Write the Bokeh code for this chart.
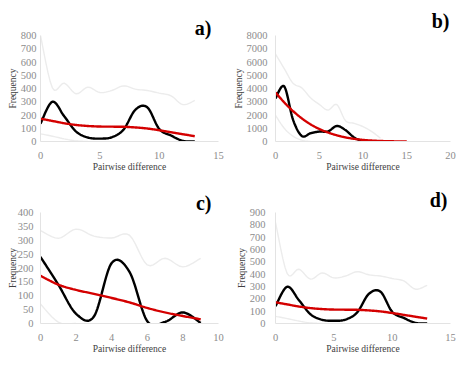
import numpy as np
from bokeh.plotting import figure
from bokeh.models import Range1d, FixedTicker, Title
from bokeh.layouts import gridplot
from bokeh.embed import file_html
from bokeh.resources import INLINE

# ---------------- data ----------------
# panel a
a_x = list(range(14))
a_obs = [135, 300, 190, 75, 30, 22, 32, 90, 240, 258, 95, 45, 5, 0]
a_exp = [172, 155, 138, 125, 117, 113, 112, 111, 106, 98, 85, 70, 55, 40]
a_hi = [800, 405, 440, 360, 410, 370, 385, 420, 395, 385, 365, 345, 278, 310]
a_lo_x = [0, 1, 2, 3, 4]
a_lo = [58, 40, 20, 5, 0]

# panel b
b_obs_x = list(range(11))
b_obs = [3250, 4150, 1650, 420, 620, 750, 760, 1170, 860, 300, 0]
b_exp_x = list(range(16))
b_exp = [3700, 2950, 2300, 1750, 1300, 950, 680, 470, 310, 200, 120, 70, 40, 20, 8, 0]
b_hi_x = list(range(13))
b_hi = [6600, 5500, 4400, 4050, 3300, 2800, 2370, 2790, 1570, 1370, 1120, 750, 250]
b_lo_x = [0, 1, 2, 3, 4]
b_lo = [1970, 1000, 400, 100, 0]

# panel c
c_x = list(range(10))
c_obs = [240, 140, 35, 25, 218, 186, 8, 6, 40, 2]
c_exp = [172, 140, 121, 107, 92, 76, 56, 40, 27, 15]
c_hi = [335, 307, 340, 315, 308, 318, 211, 235, 204, 235]
c_lo_x = [0, 1, 2]
c_lo = [70, 5, 0]

# panel d
d_x = list(range(14))
d_obs = [140, 298, 190, 75, 30, 22, 32, 90, 240, 258, 95, 45, 5, 0]
d_exp = [172, 155, 138, 125, 117, 113, 112, 111, 106, 98, 85, 70, 55, 40]
d_hi = [820, 405, 440, 360, 410, 370, 385, 420, 395, 385, 365, 345, 278, 310]
d_lo_x = [0, 1, 2, 3, 4]
d_lo = [58, 40, 20, 5, 0]

x_label = "Pairwise difference"
y_label = "Frequency"


def smooth(xs, ys, n=16):
    """Catmull-Rom rendering of a smoothed line (like a spreadsheet's smoothed line)."""
    xs = np.asarray(xs, float)
    ys = np.asarray(ys, float)
    if len(xs) < 3:
        return xs, ys
    px = np.concatenate([[xs[0]], xs, [xs[-1]]])
    py = np.concatenate([[ys[0]], ys, [ys[-1]]])
    ox, oy = [], []
    t = np.linspace(0, 1, n, endpoint=False)
    for i in range(1, len(px) - 2):
        for arr, out in ((px, ox), (py, oy)):
            p0, p1, p2, p3 = arr[i - 1], arr[i], arr[i + 1], arr[i + 2]
            out.extend(0.5 * ((2 * p1) + (-p0 + p2) * t
                              + (2 * p0 - 5 * p1 + 4 * p2 - p3) * t ** 2
                              + (-p0 + 3 * p1 - 3 * p2 + p3) * t ** 3))
    ox.append(xs[-1])
    oy.append(ys[-1])
    return np.array(ox), np.array(oy)


SERIF = "Liberation Serif"


def make_panel(width, height, xmax, xstep, ymax, ystep, borders,
               y_std, series, tag, tag_pos):
    left, right, top, bottom = borders
    p = figure(width=width, height=height, output_backend="svg", toolbar_location=None,
               x_range=Range1d(0, xmax), y_range=Range1d(0, ymax),
               min_border_left=left, min_border_right=right,
               min_border_top=top, min_border_bottom=bottom)
    p.outline_line_color = None
    p.grid.visible = False
    p.background_fill_color = "white"
    p.border_fill_color = "white"

    p.xaxis.ticker = FixedTicker(ticks=list(range(0, xmax + 1, xstep)))
    p.yaxis.ticker = FixedTicker(ticks=list(range(0, ymax + 1, ystep)))
    for ax in (p.xaxis[0], p.yaxis[0]):
        ax.axis_line_color = "#e3e3e3"
        ax.axis_line_width = 1
        ax.major_tick_line_color = None
        ax.minor_tick_line_color = None
        ax.major_label_text_font = SERIF
        ax.major_label_text_font_size = "10.5px"
        ax.major_label_text_color = "#8c8c8c"
        ax.axis_label_text_font = SERIF
        ax.axis_label_text_font_size = "9.5px"
        ax.axis_label_text_font_style = "normal"
        ax.axis_label_text_color = "#404040"
    p.xaxis.axis_label = x_label
    p.yaxis.axis_label = y_label
    p.xaxis.major_label_standoff = 4
    p.xaxis.axis_label_standoff = 0
    p.yaxis.major_tick_out = 0
    p.yaxis.major_tick_in = 0
    p.yaxis.minor_tick_out = 0
    p.yaxis.major_label_standoff = y_std[0]
    p.yaxis.axis_label_standoff = y_std[1]

    (hx, hy), (lx, ly), (ex, ey), (obx, oby) = series
    sx, sy = smooth(hx, hy, 6)
    p.line(sx, sy, line_color="#ececec", line_width=1.4)
    sx, sy = smooth(lx, ly, 6)
    p.line(sx, sy, line_color="#ececec", line_width=1.4)
    sx, sy = smooth(obx, oby)
    p.line(sx, sy, line_color="black", line_width=2.4)
    sx, sy = smooth(ex, ey)
    p.line(sx, sy, line_color="#d40000", line_width=2.4)

    p.add_layout(Title(text=tag, align="right", offset=tag_pos[0], standoff=tag_pos[1],
                       text_font=SERIF, text_font_size="20px", text_font_style="bold",
                       text_color="black"), "above")
    return p


pa = make_panel(227, 174, 15, 5, 800, 100, (40, 8, 27, 31), (4, 0),
                [(a_x, a_hi), (a_lo_x, a_lo), (a_x, a_exp), (a_x, a_obs)],
                "a)", (7, -7))
pb = make_panel(231, 174, 20, 5, 8000, 1000, (48, 8, 35, 31), (8, 0),
                [(b_hi_x, b_hi), (b_lo_x, b_lo), (b_exp_x, b_exp), (b_obs_x, b_obs)],
                "b)", (1, 7))
pc = make_panel(227, 182, 10, 2, 400, 50, (36, 9, 33, 30), (7, -3),
                [(c_x, c_hi), (c_lo_x, c_lo), (c_x, c_exp), (c_x, c_obs)],
                "c)", (7, -3))
pd = make_panel(231, 182, 15, 5, 900, 100, (48, 7, 38, 31), (10, 0),
                [(d_x, d_hi), (d_lo_x, d_lo), (d_x, d_exp), (d_x, d_obs)],
                "d)", (3, 3))

grid = gridplot([[pa, pb], [pc, pd]], toolbar_location=None)

open("out.html", "w").write(file_html(grid, INLINE))
